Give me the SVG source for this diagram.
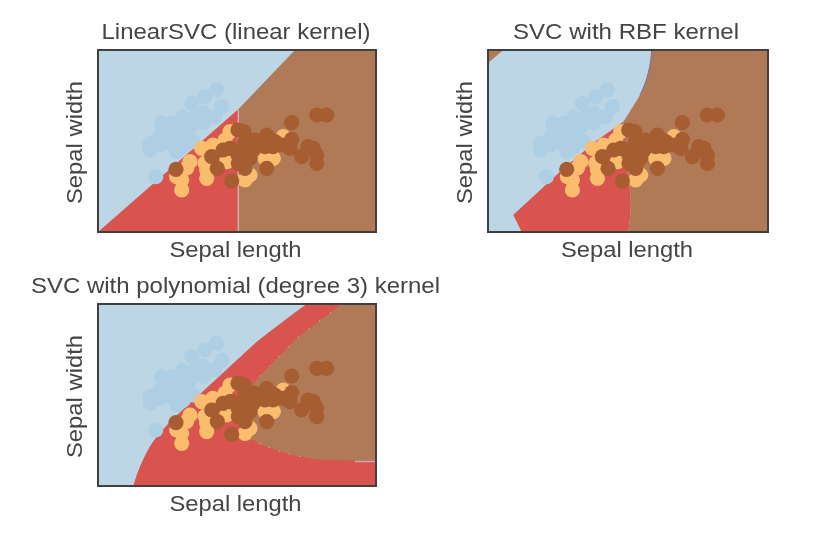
<svg xmlns="http://www.w3.org/2000/svg" width="832" height="534" viewBox="0 0 832 534">
<style>
text{font-family:"Liberation Sans",Arial,sans-serif;font-size:22px;fill:#444;text-anchor:start}
.b{fill:#bdd6e6}.r{fill:#d9534f}.n{fill:#b07a57}
.frame{fill:none;stroke:#3f3f3f;stroke-width:2}
.db circle{fill:#aecfe3}.do circle{fill:#f9bd6d}.dn circle{fill:#a65d30}
circle{r:7.6px}
</style>
<defs>
<filter id="soft" x="-5%" y="-5%" width="110%" height="110%"><feGaussianBlur stdDeviation="0.75"/></filter>
<g id="dots">
<g class="db"><circle cx="216.7" cy="90"/><circle cx="205" cy="96.7"/><circle cx="191.7" cy="103.3"/><circle cx="221.7" cy="106.7"/><circle cx="215" cy="116.7"/><circle cx="161.7" cy="123.3"/><circle cx="173" cy="123"/><circle cx="183" cy="117"/><circle cx="195" cy="117"/><circle cx="203" cy="113"/><circle cx="203" cy="123"/><circle cx="190" cy="127"/><circle cx="180" cy="130"/><circle cx="170" cy="130"/><circle cx="160" cy="136.7"/><circle cx="150" cy="143"/><circle cx="150" cy="150"/><circle cx="163" cy="137"/><circle cx="173" cy="140"/><circle cx="186.7" cy="136.7"/><circle cx="193" cy="141.7"/><circle cx="160" cy="145"/><circle cx="173" cy="145"/><circle cx="183" cy="147"/><circle cx="176.7" cy="151.7"/><circle cx="155.7" cy="176.7"/></g>
<g class="do"><circle cx="230" cy="131.7"/><circle cx="225" cy="140"/><circle cx="201.7" cy="148.3"/><circle cx="213" cy="145"/><circle cx="190" cy="161.7"/><circle cx="186.7" cy="168"/><circle cx="176.7" cy="176.7"/><circle cx="181.7" cy="190"/><circle cx="181.7" cy="180"/><circle cx="205" cy="163"/><circle cx="206.7" cy="170"/><circle cx="206.7" cy="178.3"/><circle cx="245" cy="180"/><circle cx="250" cy="175"/><circle cx="273.3" cy="158.3"/><circle cx="265" cy="158.3"/><circle cx="233.3" cy="156.7"/><circle cx="226.7" cy="161.7"/><circle cx="283.3" cy="136.7"/></g>
<g class="dn"><circle cx="176" cy="169.3"/><circle cx="211.7" cy="156.7"/><circle cx="217.3" cy="168.3"/><circle cx="230" cy="148.3"/><circle cx="223" cy="150"/><circle cx="231.7" cy="181"/><circle cx="238" cy="130"/><circle cx="244" cy="131.7"/><circle cx="291.7" cy="122.7"/><circle cx="316.7" cy="115"/><circle cx="326.7" cy="115"/><circle cx="266.7" cy="135"/><circle cx="275" cy="141.7"/><circle cx="255" cy="140"/><circle cx="245" cy="141.7"/><circle cx="291.7" cy="139.3"/><circle cx="290" cy="148.3"/><circle cx="301.7" cy="156.7"/><circle cx="313.3" cy="148.3"/><circle cx="316.7" cy="155"/><circle cx="316.7" cy="163.3"/><circle cx="308" cy="146.7"/><circle cx="266.7" cy="168.3"/><circle cx="245" cy="168.3"/><circle cx="238.3" cy="163.3"/><circle cx="250" cy="158.3"/><circle cx="253.3" cy="150"/><circle cx="265" cy="146.7"/><circle cx="273" cy="146.7"/><circle cx="231.7" cy="148.3"/><circle cx="238" cy="155"/><circle cx="245" cy="151.7"/><circle cx="261.7" cy="143"/><circle cx="271.7" cy="140"/><circle cx="283" cy="145"/></g>
</g>
</defs>
<g filter="url(#soft)">
<g id="panel-linear">
<rect class="b" x="98" y="50" width="278" height="182"/>
<polygon class="r" points="98,232 238.3,109.3 238.3,232"/>
<polygon class="n" points="238.3,232 238.3,109.3 295,50 376,50 376,232"/>
<line x1="238.3" y1="110" x2="238.3" y2="232" stroke="#d9b8c8" stroke-width="1.2"/>
<use href="#dots"/>
<rect class="frame" x="98" y="50" width="278" height="182"/>
<text x="101.5" y="39.3" textLength="269" lengthAdjust="spacingAndGlyphs">LinearSVC (linear kernel)</text>
<text x="169.5" y="256.7" textLength="132" lengthAdjust="spacingAndGlyphs">Sepal length</text>
<text transform="translate(82 204) rotate(-90)" textLength="123" lengthAdjust="spacingAndGlyphs">Sepal width</text>
</g>
<g id="panel-rbf">
<rect class="b" x="488" y="50" width="280" height="182"/>
<polygon class="n" points="488,63 503.3,50 488,50"/>
<path class="n" d="M651.7,50 C651,65 647,82 640,95 C634,105 629,113 623.3,121.7 L630,190 C632,205 630,220 628.3,232 L768,232 L768,50 Z"/>
<path class="r" d="M623.3,121.7 L595,141.7 L560,171.7 L516.7,211.7 L513.3,215 L521.7,232 L628.3,232 C630,220 632,205 630,190 Z"/>
<path d="M651.7,50 C651,65 647,82 640,95" fill="none" stroke="#7a6aa5" stroke-width="1"/>
<use href="#dots" x="390.7"/>
<rect class="frame" x="488" y="50" width="280" height="182"/>
<text x="513" y="39.3" textLength="226" lengthAdjust="spacingAndGlyphs">SVC with RBF kernel</text>
<text x="561" y="256.7" textLength="132" lengthAdjust="spacingAndGlyphs">Sepal length</text>
<text transform="translate(472 204) rotate(-90)" textLength="123" lengthAdjust="spacingAndGlyphs">Sepal width</text>
</g>
<g id="panel-poly">
<rect class="b" x="98" y="304" width="278" height="182"/>
<path class="r" d="M133.3,486 C137,472 146,450 156.7,436.7 C168,423 178,414 190,403.3 L213.3,381.7 L256.7,341.7 C272,330 290,316 306.7,304 L376,304 L376,486 Z"/>
<path class="n" d="M341.7,304 L296.7,338.3 L253.3,383 L250,438.3 C262,446 280,453 306.7,457.7 C318,460 330,460.5 376,460.7 L376,304 Z"/>
<path d="M341.7,304 L296.7,338.3 L253.3,383" fill="none" stroke="#e8c4c0" stroke-width="0.8" stroke-dasharray="1.5 12"/>
<path d="M250,438.3 C262,446 280,453 306.7,457.7" fill="none" stroke="#e8b8a0" stroke-width="0.8" stroke-dasharray="1.5 9"/>
<line x1="355" y1="461.5" x2="375" y2="461.5" stroke="#cfa6b4" stroke-width="1.5"/>
<use href="#dots" y="253.3"/>
<rect class="frame" x="98" y="304" width="278" height="182"/>
<text x="31" y="293.3" textLength="409" lengthAdjust="spacingAndGlyphs">SVC with polynomial (degree 3) kernel</text>
<text x="169.5" y="510.5" textLength="132" lengthAdjust="spacingAndGlyphs">Sepal length</text>
<text transform="translate(82 458) rotate(-90)" textLength="123" lengthAdjust="spacingAndGlyphs">Sepal width</text>
</g>
</g>
</svg>
